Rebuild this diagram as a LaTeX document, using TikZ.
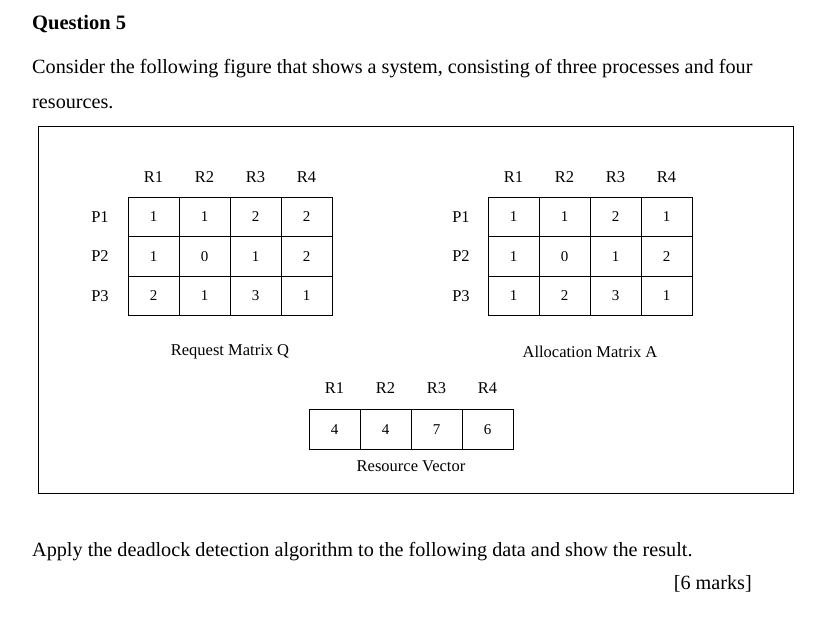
\documentclass[tikz,border=0pt]{standalone}
\usepackage{fontspec}
\setmainfont{Liberation Serif}
\begin{document}
\begin{tikzpicture}[x=1pt,y=-1pt,
  cell/.style={draw,line width=1pt,minimum width=51pt,minimum height=39.5pt,inner sep=0pt,font=\fontsize{15}{15}\selectfont},
  lab/.style={font=\fontsize{16.5}{16.5}\selectfont,inner sep=0pt},
  body/.style={font=\fontsize{20.2}{20.2}\selectfont,inner sep=0pt,anchor=base west}]
\useasboundingbox (0,0) rectangle (813,625);
\node[body,font=\bfseries\fontsize{20.5}{20.5}\selectfont] (q) at (32,29) {Question 5};
\node[body] (t1) at (32,73) {Consider the following figure that shows a system, consisting of three processes and four};
\node[body] (t2) at (32,108) {resources.};
\node[draw,line width=0.8pt,minimum width=755pt,minimum height=367pt,inner sep=0pt] (frame) at (415.5,309.5) {};
% Q matrix
\foreach \r/\row in {1/{1,1,2,2},2/{1,0,1,2},3/{2,1,3,1}}{
  \foreach \v [count=\c] in \row {
    \node[cell] (q\r\c) at (128+51*\c-25.5, 197+39.5*\r-19.75) {\v};
  }
  \node[lab] (qp\r) at (100,197+39.5*\r-19.75) {P\r};
}
\foreach \c in {1,...,4}{\node[lab] (qr\c) at (128+51*\c-25.5,177) {R\c};}
\node[lab] (qcap) at (230,352) {Request Matrix Q};
% A matrix
\foreach \r/\row in {1/{1,1,2,1},2/{1,0,1,2},3/{1,2,3,1}}{
  \foreach \v [count=\c] in \row {
    \node[cell] (a\r\c) at (488+51*\c-25.5, 197+39.5*\r-19.75) {\v};
  }
  \node[lab] (ap\r) at (461,197+39.5*\r-19.75) {P\r};
}
\foreach \c in {1,...,4}{\node[lab] (ar\c) at (488+51*\c-25.5,177) {R\c};}
\node[lab] (acap) at (590,352) {Allocation Matrix A};
% vector
\foreach \v [count=\c] in {4,4,7,6}{
  \node[cell,line width=0.8pt] (v\c) at (309+51*\c-25.5,429.5) {\v};
  \node[lab] (vr\c) at (309+51*\c-25.5,388) {R\c};
}
\node[lab] (vcap) at (411,466) {Resource Vector};
\node[body] (t3) at (32,556) {Apply the deadlock detection algorithm to the following data and show the result.};
\node[body,anchor=base east] (t4) at (752,589) {[6 marks]};
\end{tikzpicture}
\end{document}
